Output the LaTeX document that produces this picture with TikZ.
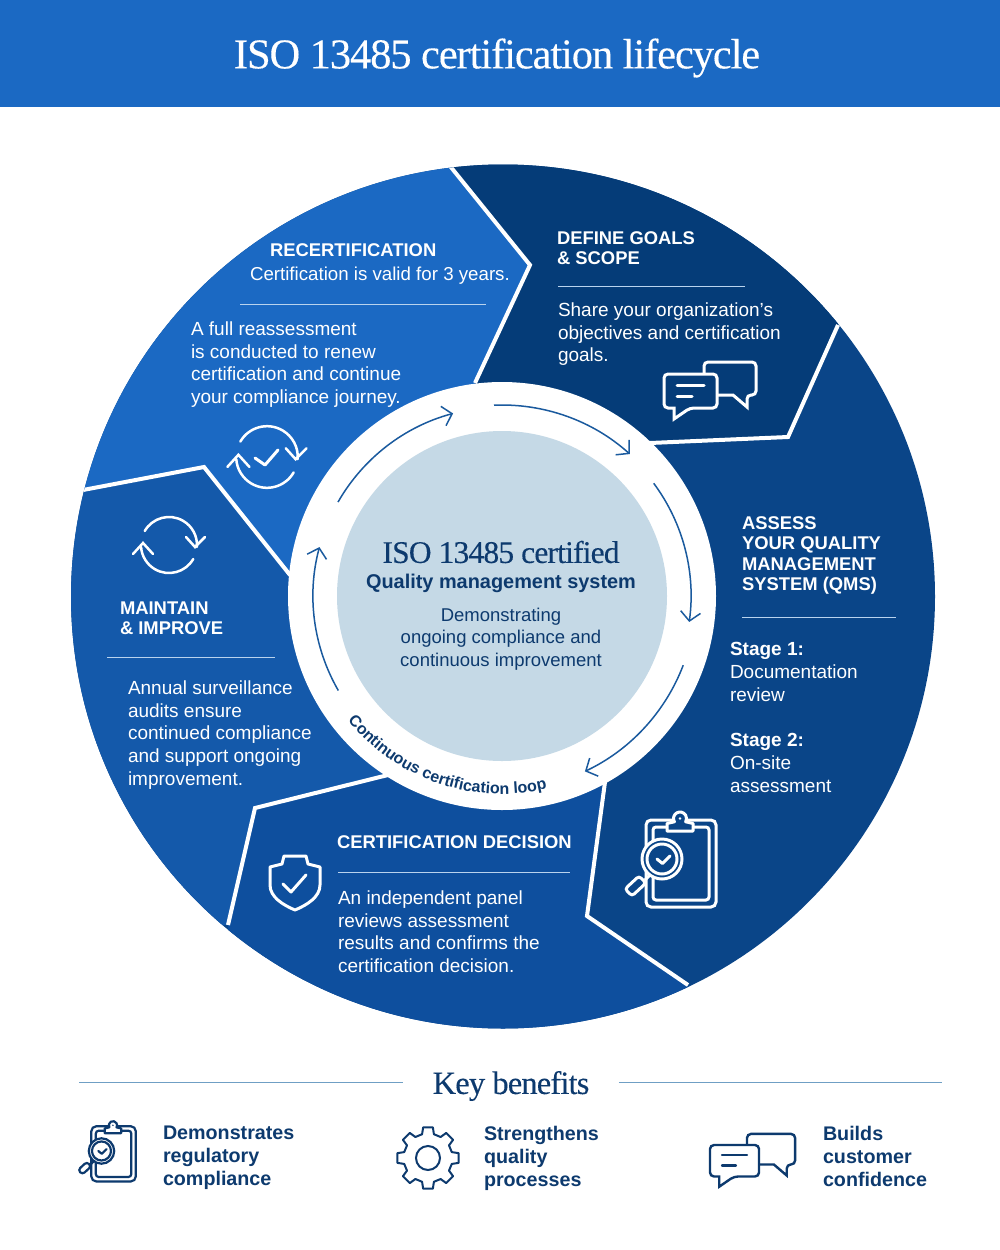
\documentclass[tikz,border=0pt]{standalone}
\usepackage{fontspec}
\setmainfont{Liberation Sans}
\newfontfamily\serifface[FakeBold=0.25,LetterSpace=-2.6]{Liberation Serif}
\usetikzlibrary{positioning,arrows.meta,decorations.text}

\definecolor{topblue}{HTML}{1B69C3}
\definecolor{defineblue}{HTML}{053C78}
\definecolor{assessblue}{HTML}{0A4588}
\definecolor{decideblue}{HTML}{0E4F9E}
\definecolor{keepblue}{HTML}{1459AA}
\definecolor{paleblue}{HTML}{C5D9E6}
\definecolor{inkblue}{HTML}{0D3A6E}
\definecolor{arcblue}{HTML}{1A5A9E}
\definecolor{keyrule}{HTML}{6F9FC4}
\definecolor{ruleblue}{HTML}{B9D3EE}
\colorlet{lensfill}{assessblue}

\tikzset{
	heading/.style = {white, anchor=north west, inner sep=0pt, align=left, font=\fontsize{18.4}{20.4}\selectfont\bfseries},
	bodytext/.style = {white, anchor=north west, inner sep=0pt, align=left, font=\fontsize{19}{22.8}\selectfont},
	centertext/.style = {inkblue, inner sep=0pt, align=center, font=\fontsize{18.5}{22.5}\selectfont},
	benefit/.style = {inkblue, anchor=north west, inner sep=0pt, align=left, font=\fontsize{19.7}{23}\selectfont\bfseries},
	sectionrule/.style = {ruleblue, line width=1pt},
	looparrow/.style = {arcblue, line width=1.5pt, -{Straight Barb[length=9pt,width=20pt]}},
}
\tikzset{
	chatpair/.pic = {
	 \draw [rounded corners=4pt, line join=miter] (0,13) -- (53,13) -- (53,47) -- (26,47) [sharp corners] -- (10,58) -- (10,47) [rounded corners=4pt] -- (0,47) -- cycle;
	 \draw [rounded corners=4pt, line join=miter] (40,13) -- (40,1) -- (92,1) -- (92,34) -- (83,34) [sharp corners] -- (83,46) -- (69,34) -- (53,34);
	 \draw [line cap=round] (13,24) -- (40,24);
	 \draw [line cap=round] (13,35) -- (28,35);
	 }}
\tikzset{
	clipcheck/.pic = {
	 \draw [rounded corners=5pt] (21,9) rectangle (91,96);
	 \draw [rounded corners=3pt] (28,16) rectangle (84,89);
	 \filldraw [fill=lensfill, line join=round] (42,20) -- (42,12.5) -- (49.4,10.75) arc (150:390:6.5) -- (68,12.5) -- (68,20) -- cycle;
	 \fill (55,7.5) circle (1.3);
	 \filldraw [fill=lensfill] (37,48) circle (20);
	 \draw (37,48) circle (15);
	 \draw (25,64) -- (20,69);
	 \filldraw [fill=lensfill, rounded corners=3pt] (21,72) -- (7,85) -- (0,78) -- (14,65) -- cycle;
	 \draw [line cap=round, line join=round] (32,48) -- (37.5,52.5) -- (45,45);
	 }}
\tikzset{
	loopicon/.pic = {
	 \draw [line cap=round] (0,0) ++(210:28) arc (210:364:28);
	 \draw [line cap=round] (0,0) ++(30:28) arc (30:176:28);
	 \draw [line cap=round, line join=miter] (17,-8) -- (26,2) -- (36,-8);
	 \draw [line cap=round, line join=miter] (-36,9) -- (-26,-2) -- (-16,9);
	 }}
\tikzset{
	shieldcheck/.pic = {
	 \draw [line join=round] (-25,-15) -- (-13,-18) -- (-11,-26) -- (11,-26) -- (13,-18) -- (25,-15) -- (25,3) .. controls (25,15) and (12,23) .. (0,28) .. controls (-12,23) and (-25,15) .. (-25,3) -- cycle;
	 \draw [line cap=round, line join=round] (-12,2) -- (-4,10) -- (11,-7);
	 }}
\tikzset{
	gearicon/.pic = {
	 \draw [line join=round] (-9:31) \foreach \a in {0,45,...,315} { -- (\a-9:31) -- (\a+9:31) -- (\a+14:24.5) -- (\a+31:24.5) } -- cycle;
	 \draw (0,0) circle (12);
	 }}

\begin{document}
\begin{tikzpicture}[x=1pt, y=-1pt, line width=3pt]

\useasboundingbox (0,0) rectangle (1000,1250);
\fill [white] (0,0) rectangle (1000,1250);
\fill [topblue] (0,0) rectangle (1000,107);

% WHEEL

\coordinate (hub) at (503,596.5);
\coordinate (a1) at (450,166);
\coordinate (a2) at (530,265);
\coordinate (a3) at (475,383);
\coordinate (b1) at (838,325);
\coordinate (b2) at (788,437);
\coordinate (b3) at (650,443);
\coordinate (c1) at (605,782);
\coordinate (c2) at (587,916);
\coordinate (c3) at (688,985);
\coordinate (d1) at (388,775);
\coordinate (d2) at (255,808);
\coordinate (d3) at (228,925);
\coordinate (e1) at (290,575);
\coordinate (e2) at (204,467);
\coordinate (e3) at (83,490);

\begin{scope}
\clip (hub) circle (432);
\fill [assessblue] (60,150) rectangle (950,1040);
\fill [defineblue] (a1) -- (a2) -- (a3) -- (b3) -- (b2) -- (b1) -- (900,100) -- (450,100) -- cycle;
\fill [topblue] (a1) -- (a2) -- (a3) -- (e1) -- (e2) -- (e3) -- (0,490) -- (0,100) -- (450,100) -- cycle;
\fill [keepblue] (e3) -- (e2) -- (e1) -- (d1) -- (d2) -- (d3) -- (0,925) -- (0,490) -- cycle;
\fill [decideblue] (d3) -- (d2) -- (d1) -- (c1) -- (c2) -- (c3) -- (688,1100) -- (228,1100) -- cycle;
\draw [white, line width=4pt, line join=miter] (a1) -- (a2) -- (a3);
\draw [white, line width=4pt, line join=miter] (b1) -- (b2) -- (b3);
\draw [white, line width=4pt, line join=miter] (c1) -- (c2) -- (c3);
\draw [white, line width=4pt, line join=miter] (d1) -- (d2) -- (d3);
\draw [white, line width=4pt, line join=miter] (e1) -- (e2) -- (e3);
\end{scope}

\fill [white] (502,596) circle (214);
\fill [paleblue] (502,596) circle (165);

% LOOP

\coordinate (loopc) at (502,596);
\draw [looparrow] (loopc) ++(209.8:189) arc (209.8:255:189);
\draw [looparrow] (loopc) ++(267.6:191) arc (267.6:312:191);
\draw [looparrow] (loopc) ++(323.4:189) arc (323.4:367.9:189);
\draw [looparrow] (loopc) ++(20.9:194) arc (20.9:64.7:194);
\draw [looparrow] (loopc) ++(150:189) arc (150:195:189);
\path [decorate, decoration={text along path, text align=center,
	text={|\fontsize{16}{16}\selectfont\bfseries\color{inkblue}|Continuous certification loop}}]
	(loopc) ++(145:198) arc (145:73:198);

% NODES

\node (title) at (497,58) [white, font=\serifface\fontsize{42.5}{43}\selectfont] {ISO 13485 certification lifecycle};

% center
\node (centertitle) at (501,552) [inkblue, font=\serifface\fontsize{31.5}{32}\selectfont] {ISO 13485 certified};
\node (centersub) at (501,583) [inkblue, font=\fontsize{19.9}{22}\selectfont\bfseries] {Quality management system};
\node (centernote) [centertext, below=18pt of centersub.base] {Demonstrating \\ ongoing compliance and \\ continuous improvement};

% recertification
\node (recerthead) at (268.5,242) [heading] {RECERTIFICATION};
\node (recertvalid) at (248.5,265) [bodytext, font=\fontsize{18.7}{22.8}\selectfont] {Certification is valid for 3 years.};
\draw [sectionrule] (240,304) -- (486,304);
\node (recerttext) at (189.5,320) [bodytext] {A full reassessment \\ is conducted to renew \\ certification and continue \\ your compliance journey.};
\pic (recerticon) [white, line width=2.5pt, scale=1.1] at (267,457) {loopicon};
\draw [white, line width=3pt, line cap=round, line join=round] (255,458) -- (265,465) -- (278,450);

% define goals
\node (definehead) at (555.5,230) [heading] {DEFINE GOALS \\ \& SCOPE};
\draw [sectionrule] (558,286) -- (745,286);
\node (definetext) at (556.5,301) [bodytext] {Share your organization’s \\ objectives and certification \\ goals.};
\pic (defineicon) [white] at (664,361) {chatpair};

% assess
\node (assesshead) at (740.5,515) [heading] {ASSESS \\ YOUR QUALITY \\ MANAGEMENT \\ SYSTEM (QMS)};
\draw [sectionrule] (742,617) -- (896,617);
\node (assesstext) at (728.5,641) [bodytext] {\textbf{Stage 1:} \\ Documentation \\ review \\[22.8pt] \textbf{Stage 2:} \\ On-site \\ assessment};
\pic (assessicon) [white] at (625,811) {clipcheck};

% decision
\node (decidehead) at (335.5,834) [heading] {CERTIFICATION DECISION};
\draw [sectionrule] (338,872) -- (570,872);
\node (decidetext) at (336.5,889) [bodytext] {An independent panel \\ reviews assessment \\ results and confirms the \\ certification decision.};
\pic (decideicon) [white] at (295,882) {shieldcheck};

% maintain
\node (keephead) at (118.5,600) [heading] {MAINTAIN \\ \& IMPROVE};
\draw [sectionrule] (107,657) -- (275,657);
\node (keeptext) at (126.5,679) [bodytext] {Annual surveillance \\ audits ensure \\ continued compliance \\ and support ongoing \\ improvement.};
\pic (keepicon) [white, line width=2.5pt] at (169,545) {loopicon};

% key benefits
\node (keytitle) at (511,1086) [inkblue, inner xsep=28pt, font=\serifface\fontsize{32.5}{33}\selectfont] {Key benefits};
\coordinate (keyleft) at (79,1082);
\coordinate (keyright) at (942,1082);
\colorlet{lensfill}{white}
\pic (benefitclip) [inkblue, line width=2.2pt, scale=.635] at (78,1120.5) {clipcheck};
\pic (benefitgear) [inkblue, line width=2pt] at (428,1158) {gearicon};
\pic (benefitchat) [inkblue, line width=2.4pt, scale=.925] at (710,1133) {chatpair};
\node (benefitone) at (161.5,1124.5) [benefit] {Demonstrates \\ regulatory \\ compliance};
\node (benefittwo) at (482.5,1124.5) [benefit] {Strengthens \\ quality \\ processes};
\node (benefitthree) at (821.5,1124.5) [benefit] {Builds \\ customer \\ confidence};

%CONNECTIONS
\draw [keyrule, line width=1pt] (keyleft) -- (keytitle.west |- keyleft);
\draw [keyrule, line width=1pt] (keytitle.east |- keyright) -- (keyright);

\end{tikzpicture}
\end{document}
